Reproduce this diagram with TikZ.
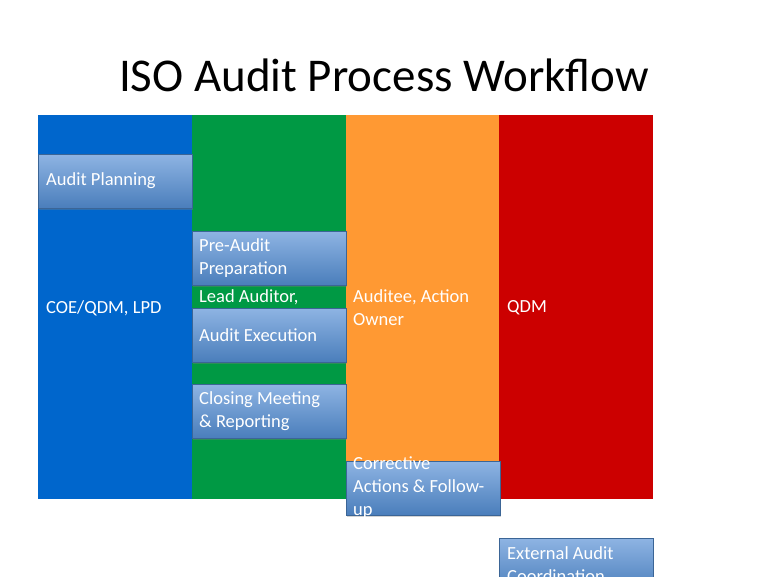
\documentclass[tikz,border=0pt]{standalone}
\usepackage{fontspec}
\setmainfont{Carlito}
\usetikzlibrary{shadows}
\definecolor{cblue}{HTML}{0066CC}
\definecolor{cgreen}{HTML}{009944}
\definecolor{corange}{HTML}{FF9933}
\definecolor{cred}{HTML}{CC0000}
\definecolor{btop}{HTML}{8EB4E3}
\definecolor{bbot}{HTML}{4A7EBB}
\tikzset{
 lane/.style={draw=none,minimum width=154pt,minimum height=384pt,anchor=north west,inner sep=0pt},
 lanelabel/.style={anchor=west,text=white,font=\fontsize{18.5}{23}\selectfont,align=left,inner sep=0pt},
 stepbox/.style={anchor=north west,minimum width=154pt,minimum height=54pt,inner sep=0pt,
   top color=btop,bottom color=bbot,draw=bbot!80!black,line width=0.4pt,
   drop shadow={shadow xshift=1pt,shadow yshift=-2pt,opacity=0.35}},
 steptext/.style={anchor=west,text=white,font=\fontsize{18.5}{23}\selectfont,align=left,inner sep=0pt}
}
\begin{document}
\begin{tikzpicture}[x=1pt,y=-1pt]
\useasboundingbox (0,0) rectangle (768,576);
\node[lane,fill=cblue] (l1) at (38,115) {};
\node[lane,fill=cgreen] (l2) at (192,115) {};
\node[lane,fill=corange] (l3) at (346,115) {};
\node[lane,fill=cred] (l4) at (499,115) {};
\node[font=\fontsize{47}{55}\selectfont] (title) at (384,75) {ISO Audit Process Workflow};
\node[lanelabel] (t1) at (46,308) {COE/QDM, LPD};
\node[lanelabel] (t2) at (199,297) {Lead Auditor,};
\node[lanelabel] (t3) at (353,308) {Auditee, Action\\Owner};
\node[lanelabel] (t4) at (507,308) {QDM};
\node[stepbox] (b1) at (38,154) {};
\node[steptext] at (46,181) {Audit Planning};
\node[stepbox] (b2) at (192,231) {};
\node[steptext] at (199,258) {Pre-Audit\\Preparation};
\node[stepbox] (b3) at (192,308) {};
\node[steptext] at (199,335) {Audit Execution};
\node[stepbox] (b4) at (192,384) {};
\node[steptext] at (199,411) {Closing Meeting\\\& Reporting};
\node[stepbox] (b5) at (346,461) {};
\node[steptext] at (353,488) {Corrective\\Actions \& Follow-\\up};
\node[stepbox] (b6) at (499,538) {};
\node[steptext] at (507,565) {External Audit\\Coordination};
\end{tikzpicture}
\end{document}
